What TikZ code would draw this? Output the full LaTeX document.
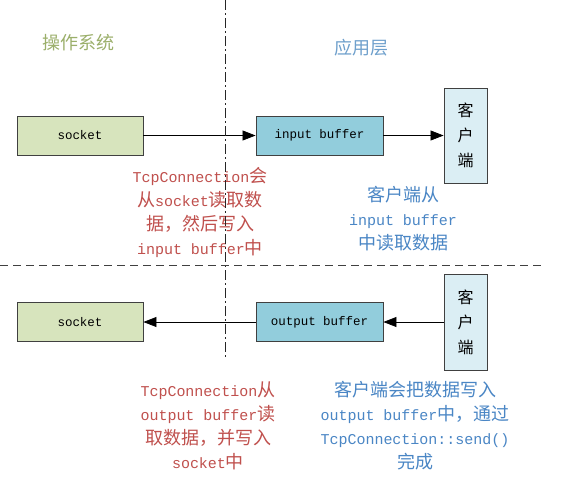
\documentclass[tikz,border=0pt]{standalone}
\usepackage{fontspec}
\setmainfont{Liberation Mono}[Scale=0.833]
\newfontfamily\cjkfont{Noto Sans CJK SC}
\newcommand{\zhs}[1]{{\cjkfont #1}}
\usetikzlibrary{arrows.meta}
\definecolor{osgreen}{HTML}{9BAF6A}
\definecolor{applblue}{HTML}{6FA0CC}
\definecolor{notered}{HTML}{C0504D}
\definecolor{noteblue}{HTML}{4A86C5}
\definecolor{sockfill}{HTML}{D7E4BD}
\definecolor{buffill}{HTML}{92CDDC}
\definecolor{clifill}{HTML}{DBEEF4}
\definecolor{edgegray}{HTML}{404040}
\begin{document}
\begin{tikzpicture}[x=1pt,y=-1pt,
  box/.style={draw=edgegray, line width=0.9pt, inner sep=0pt, font=\fontsize{15}{18}\selectfont},
  sockbox/.style={box, fill=sockfill, minimum width=126pt, minimum height=39pt},
  bufbox/.style={box, fill=buffill, minimum width=127pt, minimum height=39pt},
  clibox/.style={box, fill=clifill, minimum width=43pt, minimum height=95pt, align=center, font=\cjkfont\fontsize{16}{25}\selectfont},
  arr/.style={-{Triangle[length=13pt,width=10pt]}, line width=0.7pt, draw=black},
  note/.style={font=\fontsize{18}{24}\selectfont, align=center, inner sep=0pt},
  title/.style={font=\cjkfont\fontsize{18}{22}\selectfont, inner sep=0pt},
  vline/.style={draw=black!85, line width=0.8pt, dash pattern=on 10pt off 3pt on 2pt off 3pt},
  hline/.style={draw=black!75, line width=0.9pt, dash pattern=on 8pt off 5pt}]
\useasboundingbox[fill=white] (0,0) rectangle (564,483);

% titles
\node[title, text=osgreen] (tos) at (78,43) {操作系统};
\node[title, text=applblue] (tapp) at (361,48) {应用层};

% top row
\node[sockbox] (sock1) at (80,135.5) {socket};
\node[bufbox] (inbuf) at (319.5,135.5) {input buffer};
\node[clibox] (cli1) at (465.5,135.5) {客\\户\\端};
\draw[arr] (sock1) -- (inbuf);
\draw[arr] (inbuf) -- (cli1);

% bottom row
\node[sockbox] (sock2) at (80,322) {socket};
\node[bufbox] (outbuf) at (319.5,322) {output buffer};
\node[clibox, minimum height=96pt] (cli2) at (465.5,322) {客\\户\\端};
\draw[arr] (cli2) -- (outbuf);
\draw[arr] (outbuf) -- (sock2);

% notes
\node[note, text=notered] (n1) at (200,212) {TcpConnection\zhs{会}\\\zhs{从}socket\zhs{读取数}\\\zhs{据，然后写入}\\input buffer\zhs{中}};
\node[note, text=noteblue] (n2) at (403,219) {\zhs{客户端从}\\input buffer\\\zhs{中读取数据}};
\node[note, text=notered] (n3) at (208,426) {TcpConnection\zhs{从}\\output buffer\zhs{读}\\\zhs{取数据，并写入}\\socket\zhs{中}};
\node[note, text=noteblue] (n4) at (415,426) {\zhs{客户端会把数据写入}\\output buffer\zhs{中，通过}\\TcpConnection::send()\\\zhs{完成}};

% separators
\coordinate (vt) at (225,0);
\coordinate (vb) at (225,358);
\coordinate (hl) at (0,265);
\coordinate (hr) at (543,265);
\draw[vline] (vt) -- (vb);
\draw[hline] (hl) -- (hr);
\end{tikzpicture}
\end{document}
